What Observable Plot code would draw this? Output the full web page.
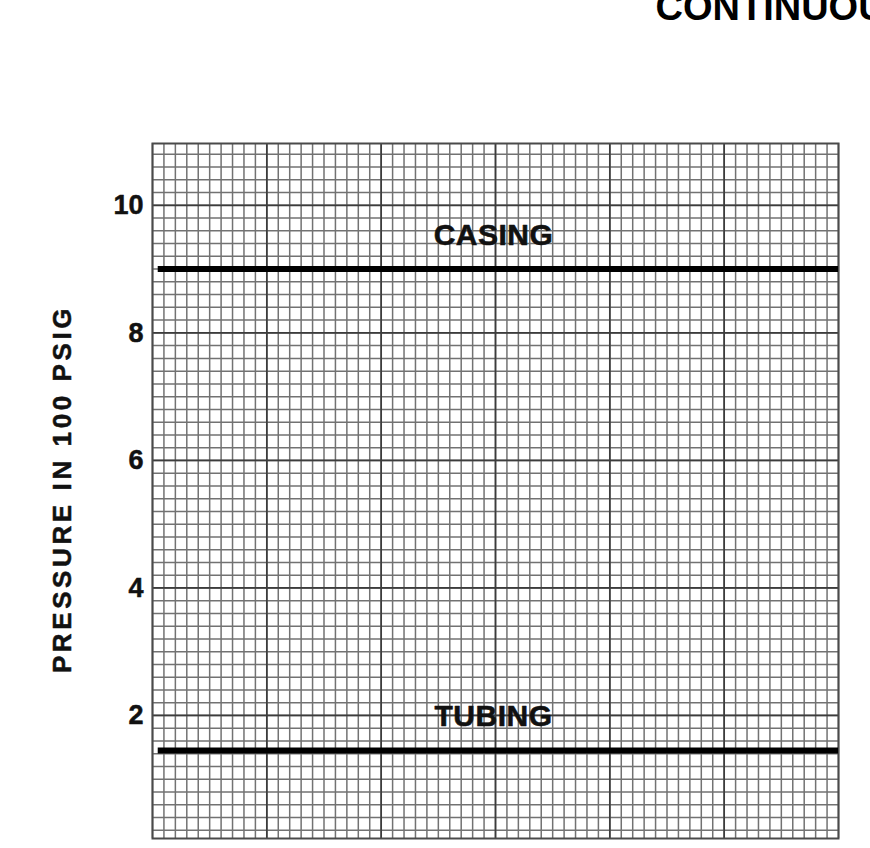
<!DOCTYPE html>
<html>
<head>
<meta charset="utf-8">
<script src="https://cdn.jsdelivr.net/npm/d3@7"></script>
<script src="https://cdn.jsdelivr.net/npm/@observablehq/plot@0.6"></script>
<style>
  html, body { margin: 0; padding: 0; background: #fff; overflow: hidden; }
  #chart svg { display: block; }
</style>
</head>
<body>
<div id="chart"></div>
<script>
// ---- data ----
const seriesNames = ["CASING", "TUBING"];
const pressure = [9.0, 1.45];          // hundreds of psig
const lineStart = 0.5;                 // time units (chart divisions)
const lineEnd = 60;
const yTicks = [2, 4, 6, 8, 10];
const yLabel = "PRESSURE IN 100 PSIG";
const titleText = "CONTINUOUS FLOW";

// chart-paper grid
const xMinor = d3.range(0, 61, 1);
const xMajor = [10, 20, 30, 40, 50];
const yMinor = d3.range(0.2, 10.97, 0.2);
const yMajor = [2, 4, 6, 8, 10];

const series = seriesNames.map((name, i) => ({name, value: pressure[i], x1: lineStart, x2: lineEnd}));

const font = "'Liberation Sans', Arial, Helvetica, sans-serif";

const chart = Plot.plot({
  width: 870,
  height: 848,
  marginLeft: 152,
  marginRight: 32,
  marginTop: 143,
  marginBottom: 10,
  style: {fontFamily: font, background: "#fff", overflow: "visible"},
  x: {domain: [0, 60], axis: null},
  y: {domain: [0.07, 10.97], axis: null},
  marks: [
    Plot.ruleX(xMinor, {x: d => d, stroke: "#727272", strokeWidth: 1.5}),
    Plot.ruleY(yMinor, {y: d => d, stroke: "#727272", strokeWidth: 1.5}),
    Plot.ruleX(xMajor, {x: d => d, stroke: "#3c3c3c", strokeWidth: 1.7}),
    Plot.ruleY(yMajor, {y: d => d, stroke: "#3c3c3c", strokeWidth: 1.7}),
    Plot.frame({stroke: "#4a4a4a", strokeWidth: 2}),
    Plot.ruleY(series, {y: "value", x1: "x1", x2: "x2", stroke: "#000", strokeWidth: 6}),
    Plot.text(series, {y: "value", x: 30, text: "name", dy: -34, dx: -2, fontSize: 30, fontWeight: "bold", fill: "#111", stroke: "#111", strokeWidth: 0.6}),
    Plot.text(yTicks, {y: d => d, text: d => String(d), frameAnchor: "left", dx: -9, textAnchor: "end", fontSize: 27, fontWeight: "bold", fill: "#111", stroke: "#111", strokeWidth: 0.5}),
    Plot.text([yLabel], {frameAnchor: "left", dx: -90, dy: -2, rotate: -90, textAnchor: "middle", text: d => d, fontSize: 26, fontWeight: "bold", fill: "#111", stroke: "#111", strokeWidth: 0.5}),
    Plot.text([titleText], {frameAnchor: "top-left", dx: 503, dy: -124, text: d => d, textAnchor: "start", lineAnchor: "bottom", fontSize: 38, fontWeight: "bold", fill: "#000"})
  ]
});

d3.select(chart).selectAll("text").each(function() {
  const t = this.textContent;
  if (t === yLabel) this.setAttribute("letter-spacing", "3.6");
  else if (seriesNames.includes(t)) this.setAttribute("letter-spacing", "0.5");
});

document.getElementById("chart").append(chart);
</script>
</body>
</html>
